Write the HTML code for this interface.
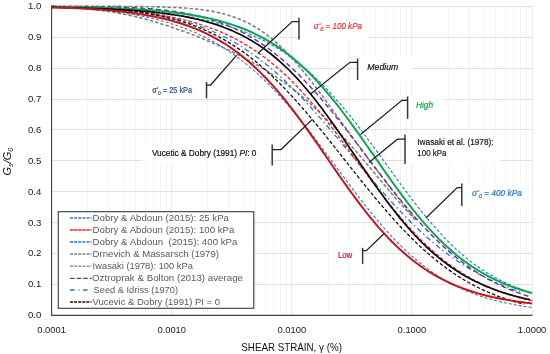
<!DOCTYPE html>
<html><head><meta charset="utf-8"><title>G/G0 vs shear strain</title>
<style>html,body{margin:0;padding:0;background:#fff}svg{display:block}text{font-family:"Liberation Sans",sans-serif}</style></head><body>
<svg width="550" height="354" viewBox="0 0 550 354">
<rect width="550" height="354" fill="#fff"/>
<path d="M87.8 6.3 V315.4 M108.9 6.3 V315.4 M123.9 6.3 V315.4 M135.5 6.3 V315.4 M145.1 6.3 V315.4 M153.1 6.3 V315.4 M160.1 6.3 V315.4 M166.2 6.3 V315.4 M207.9 6.3 V315.4 M229.0 6.3 V315.4 M244.0 6.3 V315.4 M255.6 6.3 V315.4 M265.2 6.3 V315.4 M273.2 6.3 V315.4 M280.2 6.3 V315.4 M286.3 6.3 V315.4 M328.0 6.3 V315.4 M349.1 6.3 V315.4 M364.1 6.3 V315.4 M375.7 6.3 V315.4 M385.3 6.3 V315.4 M393.3 6.3 V315.4 M400.3 6.3 V315.4 M406.4 6.3 V315.4 M448.1 6.3 V315.4 M469.2 6.3 V315.4 M484.2 6.3 V315.4 M495.8 6.3 V315.4 M505.4 6.3 V315.4 M513.4 6.3 V315.4 M520.4 6.3 V315.4 M526.5 6.3 V315.4" stroke="#f4f4f4" stroke-width="1" fill="none" shape-rendering="crispEdges"/>
<path d="M171.7 6.3 V315.4 M291.8 6.3 V315.4 M411.9 6.3 V315.4 M532.0 6.3 V315.4" stroke="#ebebeb" stroke-width="1" fill="none" shape-rendering="crispEdges"/>
<path d="M51.6 284.5 H532.0 M51.6 253.6 H532.0 M51.6 222.7 H532.0 M51.6 191.8 H532.0 M51.6 160.8 H532.0 M51.6 129.9 H532.0 M51.6 99.0 H532.0 M51.6 68.1 H532.0 M51.6 37.2 H532.0 M51.6 6.3 H532.0" stroke="#e1e1e1" stroke-width="1" fill="none" shape-rendering="crispEdges"/>
<path d="M52.0 6.3 L55.0 6.3 L58.0 6.3 L61.0 6.3 L64.0 6.3 L67.0 6.3 L70.0 6.3 L73.0 6.3 L76.0 6.3 L79.0 6.3 L82.0 6.3 L85.0 6.3 L88.0 6.3 L91.0 6.3 L94.0 6.3 L97.0 6.4 L100.0 6.4 L103.0 6.4 L106.0 6.4 L109.0 6.4 L112.0 6.4 L115.0 6.4 L118.0 6.4 L121.0 6.4 L124.0 6.5 L127.0 6.5 L130.0 6.5 L133.0 6.5 L136.0 6.5 L139.0 6.6 L142.0 6.6 L145.0 6.7 L148.0 6.7 L151.0 6.7 L154.0 6.8 L157.0 6.9 L160.0 6.9 L163.0 7.0 L166.0 7.1 L169.0 7.2 L172.0 7.4 L175.0 7.5 L178.0 7.6 L181.0 7.8 L184.0 8.0 L187.0 8.2 L190.0 8.5 L193.0 8.7 L196.0 9.0 L199.0 9.4 L202.0 9.7 L205.0 10.1 L208.0 10.6 L211.0 11.1 L214.0 11.6 L217.0 12.3 L220.0 12.9 L223.0 13.7 L226.0 14.5 L229.0 15.4 L232.0 16.3 L235.0 17.4 L238.0 18.5 L241.0 19.7 L244.0 21.1 L247.0 22.5 L250.0 24.0 L253.0 25.7 L256.0 27.5 L259.0 29.3 L262.0 31.4 L265.0 33.5 L268.0 35.8 L271.0 38.1 L274.0 40.6 L277.0 43.3 L280.0 46.1 L283.0 48.9 L286.0 51.9 L289.0 55.1 L292.0 58.3 L295.0 61.6 L298.0 65.1 L301.0 68.6 L304.0 72.3 L307.0 76.0 L310.0 79.8 L313.0 83.6 L316.0 87.5 L319.0 91.5 L322.0 95.5 L325.0 99.6 L328.0 103.7 L331.0 107.8 L334.0 111.9 L337.0 116.1 L340.0 120.2 L343.0 124.4 L346.0 128.5 L349.0 132.6 L352.0 136.8 L355.0 140.9 L358.0 145.0 L361.0 149.1 L364.0 153.1 L367.0 157.1 L370.0 161.1 L373.0 165.1 L376.0 169.1 L379.0 173.0 L382.0 176.9 L385.0 180.8 L388.0 184.7 L391.0 188.5 L394.0 192.3 L397.0 196.1 L400.0 199.9 L403.0 203.7 L406.0 207.4 L409.0 211.2 L412.0 214.9 L415.0 218.6 L416.0 219.8" stroke="#808080" stroke-width="1.6" fill="none" stroke-dasharray="3.5 2" stroke-linejoin="round"/>
<path d="M52.0 6.8 L55.0 6.9 L58.0 7.0 L61.0 7.1 L64.0 7.2 L67.0 7.3 L70.0 7.5 L73.0 7.7 L76.0 7.9 L79.0 8.1 L82.0 8.3 L85.0 8.6 L88.0 8.8 L91.0 9.1 L94.0 9.5 L97.0 9.8 L100.0 10.2 L103.0 10.6 L106.0 11.0 L109.0 11.5 L112.0 11.9 L115.0 12.5 L118.0 13.0 L121.0 13.6 L124.0 14.2 L127.0 14.8 L130.0 15.4 L133.0 16.1 L136.0 16.8 L139.0 17.6 L142.0 18.3 L145.0 19.1 L148.0 19.9 L151.0 20.8 L154.0 21.6 L157.0 22.5 L160.0 23.4 L163.0 24.4 L166.0 25.3 L169.0 26.3 L172.0 27.3 L175.0 28.3 L178.0 29.4 L181.0 30.4 L184.0 31.5 L187.0 32.6 L190.0 33.7 L193.0 34.9 L196.0 36.0 L199.0 37.2 L202.0 38.4 L205.0 39.7 L208.0 40.9 L211.0 42.2 L214.0 43.5 L217.0 44.8 L220.0 46.1 L223.0 47.5 L226.0 48.8 L229.0 50.3 L232.0 51.7 L235.0 53.2 L238.0 54.7 L241.0 56.2 L244.0 57.8 L247.0 59.4 L250.0 61.0 L253.0 62.7 L256.0 64.4 L259.0 66.1 L262.0 67.9 L265.0 69.8 L268.0 71.6 L271.0 73.6 L274.0 75.5 L277.0 77.6 L280.0 79.6 L283.0 81.8 L286.0 83.9 L289.0 86.2 L292.0 88.5 L295.0 90.8 L298.0 93.2 L301.0 95.7 L304.0 98.2 L307.0 100.8 L310.0 103.5 L313.0 106.2 L316.0 108.9 L319.0 111.8 L322.0 114.7 L325.0 117.6 L328.0 120.6 L331.0 123.7 L334.0 126.8 L337.0 130.0 L340.0 133.2 L343.0 136.5 L346.0 139.9 L349.0 143.2 L352.0 146.7 L355.0 150.1 L358.0 153.6 L361.0 157.1 L364.0 160.6 L367.0 164.2 L370.0 167.8 L373.0 171.4 L376.0 174.9 L379.0 178.5 L382.0 182.1 L385.0 185.7 L388.0 189.2 L391.0 192.7 L394.0 196.2 L397.0 199.7 L400.0 203.1 L403.0 206.5 L406.0 209.8 L409.0 213.1 L412.0 216.3 L415.0 219.4 L416.0 220.5" stroke="#808080" stroke-width="1.6" fill="none" stroke-dasharray="3.5 2" stroke-linejoin="round"/>
<path d="M52.0 7.3 L55.0 7.4 L58.0 7.5 L61.0 7.6 L64.0 7.8 L67.0 7.9 L70.0 8.0 L73.0 8.2 L76.0 8.3 L79.0 8.5 L82.0 8.7 L85.0 8.9 L88.0 9.1 L91.0 9.3 L94.0 9.6 L97.0 9.8 L100.0 10.1 L103.0 10.4 L106.0 10.7 L109.0 11.1 L112.0 11.4 L115.0 11.8 L118.0 12.2 L121.0 12.6 L124.0 13.0 L127.0 13.5 L130.0 13.9 L133.0 14.4 L136.0 15.0 L139.0 15.5 L142.0 16.1 L145.0 16.8 L148.0 17.4 L151.0 18.1 L154.0 18.8 L157.0 19.6 L160.0 20.3 L163.0 21.2 L166.0 22.0 L169.0 22.9 L172.0 23.9 L175.0 24.9 L178.0 25.9 L181.0 27.0 L184.0 28.1 L187.0 29.2 L190.0 30.5 L193.0 31.7 L196.0 33.0 L199.0 34.4 L202.0 35.8 L205.0 37.3 L208.0 38.9 L211.0 40.5 L214.0 42.1 L217.0 43.8 L220.0 45.6 L223.0 47.5 L226.0 49.4 L229.0 51.4 L232.0 53.4 L235.0 55.5 L238.0 57.7 L241.0 60.0 L244.0 62.3 L247.0 64.8 L250.0 67.2 L253.0 69.8 L256.0 72.4 L259.0 75.1 L262.0 77.9 L265.0 80.8 L268.0 83.7 L271.0 86.7 L274.0 89.8 L277.0 93.0 L280.0 96.2 L283.0 99.5 L286.0 102.9 L289.0 106.3 L292.0 109.8 L295.0 113.4 L298.0 117.0 L301.0 120.7 L304.0 124.5 L307.0 128.2 L310.0 132.1 L313.0 136.0 L316.0 139.9 L319.0 143.8 L322.0 147.8 L325.0 151.8 L328.0 155.8 L331.0 159.9 L334.0 163.9 L337.0 168.0 L340.0 172.0 L343.0 176.1 L346.0 180.1 L349.0 184.1 L352.0 188.1 L355.0 192.1 L358.0 196.0 L361.0 199.9 L364.0 203.7 L367.0 207.5 L370.0 211.3 L373.0 214.9 L376.0 218.6 L379.0 222.1 L382.0 225.6 L385.0 229.0 L388.0 232.4 L391.0 235.7 L394.0 238.9 L397.0 242.0 L400.0 245.0 L403.0 247.9 L406.0 250.8 L409.0 253.6 L412.0 256.3 L415.0 258.9 L418.0 261.4 L421.0 263.8 L424.0 266.1 L427.0 268.4 L430.0 270.6 L433.0 272.7 L436.0 274.7 L439.0 276.6 L442.0 278.4 L445.0 280.2 L448.0 281.9 L451.0 283.6 L454.0 285.1 L457.0 286.6 L460.0 288.0 L463.0 289.4 L466.0 290.7 L469.0 291.9 L472.0 293.1 L475.0 294.2 L478.0 295.3 L481.0 296.3 L484.0 297.3 L487.0 298.2 L490.0 299.0 L493.0 299.9 L496.0 300.7 L499.0 301.4 L502.0 302.1 L505.0 302.8 L508.0 303.4 L511.0 304.0 L514.0 304.6 L517.0 305.1 L520.0 305.6 L523.0 306.1 L526.0 306.6 L529.0 307.0 L532.0 307.4" stroke="#4472c4" stroke-width="1.1" fill="none" stroke-dasharray="3 2" stroke-linejoin="round"/>
<path d="M52.0 6.8 L55.0 6.9 L58.0 6.9 L61.0 7.0 L64.0 7.0 L67.0 7.1 L70.0 7.1 L73.0 7.2 L76.0 7.3 L79.0 7.4 L82.0 7.5 L85.0 7.5 L88.0 7.6 L91.0 7.7 L94.0 7.8 L97.0 8.0 L100.0 8.1 L103.0 8.2 L106.0 8.3 L109.0 8.5 L112.0 8.6 L115.0 8.8 L118.0 9.0 L121.0 9.2 L124.0 9.3 L127.0 9.5 L130.0 9.7 L133.0 10.0 L136.0 10.2 L139.0 10.4 L142.0 10.7 L145.0 11.0 L148.0 11.2 L151.0 11.5 L154.0 11.8 L157.0 12.2 L160.0 12.5 L163.0 12.8 L166.0 13.2 L169.0 13.6 L172.0 14.0 L175.0 14.4 L178.0 14.9 L181.0 15.3 L184.0 15.8 L187.0 16.3 L190.0 16.9 L193.0 17.4 L196.0 18.0 L199.0 18.6 L202.0 19.3 L205.0 19.9 L208.0 20.6 L211.0 21.3 L214.0 22.1 L217.0 22.9 L220.0 23.7 L223.0 24.6 L226.0 25.5 L229.0 26.4 L232.0 27.4 L235.0 28.4 L238.0 29.5 L241.0 30.6 L244.0 31.7 L247.0 32.9 L250.0 34.2 L253.0 35.5 L256.0 36.9 L259.0 38.3 L262.0 39.8 L265.0 41.3 L268.0 42.9 L271.0 44.5 L274.0 46.3 L277.0 48.1 L280.0 49.9 L283.0 51.9 L286.0 53.9 L289.0 56.0 L292.0 58.1 L295.0 60.3 L298.0 62.7 L301.0 65.1 L304.0 67.5 L307.0 70.1 L310.0 72.7 L313.0 75.5 L316.0 78.3 L319.0 81.2 L322.0 84.1 L325.0 87.2 L328.0 90.3 L331.0 93.6 L334.0 96.9 L337.0 100.3 L340.0 103.7 L343.0 107.3 L346.0 110.9 L349.0 114.6 L352.0 118.3 L355.0 122.1 L358.0 126.0 L361.0 129.9 L364.0 133.9 L367.0 137.9 L370.0 141.9 L373.0 146.0 L376.0 150.1 L379.0 154.3 L382.0 158.4 L385.0 162.6 L388.0 166.7 L391.0 170.9 L394.0 175.0 L397.0 179.2 L400.0 183.3 L403.0 187.3 L406.0 191.4 L409.0 195.4 L412.0 199.3 L415.0 203.2 L418.0 207.1 L421.0 210.8 L424.0 214.5 L427.0 218.2 L430.0 221.7 L433.0 225.2 L436.0 228.6 L439.0 231.9 L442.0 235.1 L445.0 238.3 L448.0 241.3 L451.0 244.3 L454.0 247.2 L457.0 249.9 L460.0 252.6 L463.0 255.2 L466.0 257.7 L469.0 260.1 L472.0 262.4 L475.0 264.7 L478.0 266.8 L481.0 268.9 L484.0 270.9 L487.0 272.8 L490.0 274.6 L493.0 276.3 L496.0 278.0 L499.0 279.6 L502.0 281.1 L505.0 282.5 L508.0 283.9 L511.0 285.2 L514.0 286.5 L517.0 287.7 L520.0 288.8 L523.0 289.9 L526.0 291.0 L529.0 291.9 L530.0 292.3" stroke="#1f78d1" stroke-width="1.1" fill="none" stroke-dasharray="3 2" stroke-linejoin="round"/>
<path d="M52.0 7.0 L55.0 7.1 L58.0 7.1 L61.0 7.2 L64.0 7.3 L67.0 7.3 L70.0 7.4 L73.0 7.5 L76.0 7.6 L79.0 7.7 L82.0 7.8 L85.0 8.0 L88.0 8.1 L91.0 8.2 L94.0 8.4 L97.0 8.6 L100.0 8.7 L103.0 8.9 L106.0 9.1 L109.0 9.3 L112.0 9.5 L115.0 9.8 L118.0 10.0 L121.0 10.3 L124.0 10.6 L127.0 10.9 L130.0 11.2 L133.0 11.5 L136.0 11.9 L139.0 12.3 L142.0 12.7 L145.0 13.1 L148.0 13.5 L151.0 14.0 L154.0 14.5 L157.0 15.0 L160.0 15.6 L163.0 16.2 L166.0 16.8 L169.0 17.4 L172.0 18.1 L175.0 18.8 L178.0 19.6 L181.0 20.4 L184.0 21.2 L187.0 22.1 L190.0 23.0 L193.0 23.9 L196.0 24.9 L199.0 26.0 L202.0 27.1 L205.0 28.2 L208.0 29.4 L211.0 30.7 L214.0 32.0 L217.0 33.3 L220.0 34.8 L223.0 36.2 L226.0 37.7 L229.0 39.3 L232.0 41.0 L235.0 42.7 L238.0 44.5 L241.0 46.3 L244.0 48.2 L247.0 50.2 L250.0 52.2 L253.0 54.3 L256.0 56.5 L259.0 58.7 L262.0 61.0 L265.0 63.4 L268.0 65.8 L271.0 68.3 L274.0 70.9 L277.0 73.5 L280.0 76.2 L283.0 79.0 L286.0 81.8 L289.0 84.7 L292.0 87.7 L295.0 90.7 L298.0 93.8 L301.0 96.9 L304.0 100.1 L307.0 103.3 L310.0 106.6 L313.0 109.9 L316.0 113.2 L319.0 116.6 L322.0 120.1 L325.0 123.5 L328.0 127.0 L331.0 130.6 L334.0 134.1 L337.0 137.7 L340.0 141.3 L343.0 144.9 L346.0 148.5 L349.0 152.1 L352.0 155.7 L355.0 159.3 L358.0 163.0 L361.0 166.6 L364.0 170.1 L367.0 173.7 L370.0 177.3 L373.0 180.8 L376.0 184.3 L379.0 187.8 L382.0 191.2 L385.0 194.6 L388.0 198.0 L391.0 201.3 L394.0 204.6 L397.0 207.8 L400.0 211.0 L403.0 214.1 L406.0 217.2 L409.0 220.2 L412.0 223.2 L415.0 226.1 L418.0 229.0 L421.0 231.8 L424.0 234.5 L427.0 237.2 L430.0 239.9 L433.0 242.4 L436.0 244.9 L439.0 247.4 L442.0 249.8 L445.0 252.1 L448.0 254.3 L451.0 256.5 L454.0 258.7 L457.0 260.7 L460.0 262.8 L463.0 264.7 L466.0 266.6 L469.0 268.5 L472.0 270.3 L475.0 272.0 L478.0 273.7 L481.0 275.3 L484.0 276.9 L487.0 278.4 L490.0 279.8 L493.0 281.3 L496.0 282.6 L499.0 284.0 L502.0 285.2 L505.0 286.5 L508.0 287.7 L511.0 288.8 L514.0 289.9 L517.0 291.0 L520.0 292.0" stroke="#1f78d1" stroke-width="1.3" fill="none" stroke-dasharray="5 3 1.5 3" stroke-linejoin="round"/>
<path d="M52.0 6.3 L55.0 6.3 L58.0 6.4 L61.0 6.4 L64.0 6.4 L67.0 6.4 L70.0 6.4 L73.0 6.4 L76.0 6.4 L79.0 6.5 L82.0 6.5 L85.0 6.5 L88.0 6.5 L91.0 6.6 L94.0 6.6 L97.0 6.6 L100.0 6.7 L103.0 6.7 L106.0 6.8 L109.0 6.9 L112.0 6.9 L115.0 7.0 L118.0 7.1 L121.0 7.2 L124.0 7.3 L127.0 7.4 L130.0 7.5 L133.0 7.7 L136.0 7.8 L139.0 8.0 L142.0 8.2 L145.0 8.4 L148.0 8.6 L151.0 8.8 L154.0 9.1 L157.0 9.4 L160.0 9.7 L163.0 10.0 L166.0 10.3 L169.0 10.7 L172.0 11.1 L175.0 11.5 L178.0 12.0 L181.0 12.5 L184.0 13.0 L187.0 13.6 L190.0 14.1 L193.0 14.8 L196.0 15.5 L199.0 16.2 L202.0 16.9 L205.0 17.7 L208.0 18.6 L211.0 19.5 L214.0 20.5 L217.0 21.5 L220.0 22.5 L223.0 23.6 L226.0 24.8 L229.0 26.1 L232.0 27.4 L235.0 28.7 L238.0 30.1 L241.0 31.6 L244.0 33.2 L247.0 34.8 L250.0 36.5 L253.0 38.3 L256.0 40.1 L259.0 42.1 L262.0 44.1 L265.0 46.1 L268.0 48.3 L271.0 50.5 L274.0 52.8 L277.0 55.2 L280.0 57.6 L283.0 60.2 L286.0 62.8 L289.0 65.5 L292.0 68.2 L295.0 71.1 L298.0 74.0 L301.0 77.0 L304.0 80.1 L307.0 83.2 L310.0 86.4 L313.0 89.7 L316.0 93.0 L319.0 96.4 L322.0 99.9 L325.0 103.4 L328.0 107.0 L331.0 110.6 L334.0 114.3 L337.0 118.0 L340.0 121.8 L343.0 125.6 L346.0 129.4 L349.0 133.3 L352.0 137.2 L355.0 141.1 L358.0 145.1 L361.0 149.0 L364.0 153.0 L367.0 156.9 L370.0 160.9 L373.0 164.8 L376.0 168.8 L379.0 172.7 L382.0 176.6 L385.0 180.5 L388.0 184.3 L391.0 188.2 L394.0 192.0 L397.0 195.7 L400.0 199.4 L403.0 203.1 L406.0 206.7 L409.0 210.2 L412.0 213.7 L415.0 217.2 L418.0 220.6 L421.0 223.9 L424.0 227.1 L427.0 230.3 L430.0 233.4 L433.0 236.5 L436.0 239.4 L439.0 242.3 L442.0 245.1 L445.0 247.9 L448.0 250.5 L451.0 253.1 L454.0 255.7 L457.0 258.1 L460.0 260.5 L463.0 262.8 L466.0 265.0 L469.0 267.1 L472.0 269.2 L475.0 271.2 L478.0 273.1 L481.0 275.0 L484.0 276.7 L487.0 278.5 L490.0 280.1 L493.0 281.7 L496.0 283.2 L499.0 284.7 L502.0 286.1 L505.0 287.5 L508.0 288.8 L511.0 290.0 L514.0 291.2 L517.0 292.3 L520.0 293.4 L523.0 294.5 L526.0 295.5 L529.0 296.4 L530.0 296.7" stroke="#7030a0" stroke-width="1.4" fill="none" stroke-dasharray="5 3" stroke-linejoin="round"/>
<path d="M52.0 7.0 L55.0 7.1 L58.0 7.2 L61.0 7.2 L64.0 7.3 L67.0 7.4 L70.0 7.5 L73.0 7.6 L76.0 7.7 L79.0 7.8 L82.0 7.9 L85.0 8.0 L88.0 8.2 L91.0 8.3 L94.0 8.4 L97.0 8.6 L100.0 8.8 L103.0 8.9 L106.0 9.1 L109.0 9.3 L112.0 9.5 L115.0 9.7 L118.0 10.0 L121.0 10.2 L124.0 10.5 L127.0 10.7 L130.0 11.0 L133.0 11.3 L136.0 11.7 L139.0 12.0 L142.0 12.4 L145.0 12.7 L148.0 13.1 L151.0 13.6 L154.0 14.0 L157.0 14.5 L160.0 14.9 L163.0 15.5 L166.0 16.0 L169.0 16.6 L172.0 17.2 L175.0 17.8 L178.0 18.4 L181.0 19.1 L184.0 19.9 L187.0 20.6 L190.0 21.4 L193.0 22.2 L196.0 23.1 L199.0 24.0 L202.0 25.0 L205.0 26.0 L208.0 27.0 L211.0 28.1 L214.0 29.2 L217.0 30.4 L220.0 31.7 L223.0 33.0 L226.0 34.3 L229.0 35.7 L232.0 37.2 L235.0 38.7 L238.0 40.3 L241.0 42.0 L244.0 43.7 L247.0 45.5 L250.0 47.4 L253.0 49.3 L256.0 51.3 L259.0 53.4 L262.0 55.5 L265.0 57.8 L268.0 60.1 L271.0 62.5 L274.0 65.0 L277.0 67.5 L280.0 70.1 L283.0 72.8 L286.0 75.6 L289.0 78.5 L292.0 81.5 L295.0 84.5 L298.0 87.6 L301.0 90.8 L304.0 94.1 L307.0 97.4 L310.0 100.8 L313.0 104.3 L316.0 107.8 L319.0 111.5 L322.0 115.1 L325.0 118.9 L328.0 122.7 L331.0 126.5 L334.0 130.4 L337.0 134.3 L340.0 138.3 L343.0 142.3 L346.0 146.3 L349.0 150.3 L352.0 154.4 L355.0 158.5 L358.0 162.5 L361.0 166.6 L364.0 170.7 L367.0 174.7 L370.0 178.8 L373.0 182.8 L376.0 186.7 L379.0 190.7 L382.0 194.6 L385.0 198.5 L388.0 202.3 L391.0 206.0 L394.0 209.7 L397.0 213.4 L400.0 216.9 L403.0 220.5 L406.0 223.9 L409.0 227.2 L412.0 230.5 L415.0 233.7 L418.0 236.9 L421.0 239.9 L424.0 242.9 L427.0 245.7 L430.0 248.5 L433.0 251.2 L436.0 253.9 L439.0 256.4 L442.0 258.8 L445.0 261.2 L448.0 263.5 L451.0 265.7 L454.0 267.8 L457.0 269.9 L460.0 271.8 L463.0 273.7 L466.0 275.6 L469.0 277.3 L472.0 279.0 L475.0 280.6 L478.0 282.1 L481.0 283.6 L484.0 285.0 L487.0 286.4 L490.0 287.7 L493.0 288.9 L496.0 290.1 L499.0 291.2 L502.0 292.3 L505.0 293.3 L508.0 294.3 L511.0 295.2 L514.0 296.1 L517.0 297.0 L520.0 297.8 L523.0 298.6 L526.0 299.3 L529.0 300.0 L532.0 300.7" stroke="#ff1a1a" stroke-width="1.3" fill="none" stroke-dasharray="3.5 2" stroke-linejoin="round"/>
<path d="M52.0 6.9 L55.0 7.0 L58.0 7.0 L61.0 7.1 L64.0 7.2 L67.0 7.2 L70.0 7.3 L73.0 7.4 L76.0 7.5 L79.0 7.6 L82.0 7.7 L85.0 7.8 L88.0 8.0 L91.0 8.1 L94.0 8.3 L97.0 8.4 L100.0 8.6 L103.0 8.8 L106.0 9.0 L109.0 9.2 L112.0 9.4 L115.0 9.7 L118.0 9.9 L121.0 10.2 L124.0 10.5 L127.0 10.8 L130.0 11.2 L133.0 11.5 L136.0 11.9 L139.0 12.3 L142.0 12.7 L145.0 13.2 L148.0 13.7 L151.0 14.2 L154.0 14.8 L157.0 15.3 L160.0 15.9 L163.0 16.6 L166.0 17.3 L169.0 18.0 L172.0 18.7 L175.0 19.5 L178.0 20.4 L181.0 21.3 L184.0 22.2 L187.0 23.2 L190.0 24.2 L193.0 25.3 L196.0 26.4 L199.0 27.6 L202.0 28.8 L205.0 30.1 L208.0 31.4 L211.0 32.8 L214.0 34.3 L217.0 35.8 L220.0 37.4 L223.0 39.1 L226.0 40.8 L229.0 42.6 L232.0 44.5 L235.0 46.4 L238.0 48.4 L241.0 50.4 L244.0 52.6 L247.0 54.8 L250.0 57.1 L253.0 59.4 L256.0 61.8 L259.0 64.3 L262.0 66.9 L265.0 69.5 L268.0 72.2 L271.0 75.0 L274.0 77.8 L277.0 80.8 L280.0 83.7 L283.0 86.8 L286.0 89.9 L289.0 93.1 L292.0 96.3 L295.0 99.6 L298.0 102.9 L301.0 106.3 L304.0 109.8 L307.0 113.2 L310.0 116.8 L313.0 120.4 L316.0 124.0 L319.0 127.6 L322.0 131.3 L325.0 135.0 L328.0 138.8 L331.0 142.5 L334.0 146.3 L337.0 150.1 L340.0 153.9 L343.0 157.7 L346.0 161.5 L349.0 165.3 L352.0 169.1 L355.0 172.9 L358.0 176.6 L361.0 180.4 L364.0 184.1 L367.0 187.9 L370.0 191.5 L373.0 195.2 L376.0 198.8 L379.0 202.4 L382.0 205.9 L385.0 209.4 L388.0 212.9 L391.0 216.3 L394.0 219.6 L397.0 222.9 L400.0 226.2 L403.0 229.4 L406.0 232.5 L409.0 235.5 L412.0 238.5 L415.0 241.5 L418.0 244.4 L421.0 247.2 L424.0 249.9 L427.0 252.6 L430.0 255.2 L433.0 257.7 L436.0 260.2 L439.0 262.6 L442.0 264.9 L445.0 267.1 L448.0 269.3 L451.0 271.4 L454.0 273.5 L457.0 275.5 L460.0 277.4 L463.0 279.2 L466.0 281.0 L469.0 282.7 L472.0 284.4 L475.0 286.0 L478.0 287.5 L481.0 289.0 L484.0 290.4 L487.0 291.7 L490.0 293.0 L493.0 294.2 L496.0 295.4 L499.0 296.6 L502.0 297.6 L505.0 298.7 L508.0 299.7 L511.0 300.6 L514.0 301.5 L517.0 302.3 L520.0 303.2 L523.0 303.9 L524.0 304.2" stroke="#111111" stroke-width="1.3" fill="none" stroke-dasharray="3.5 2" stroke-linejoin="round"/>
<path d="M52.0 6.8 L55.0 6.8 L58.0 6.9 L61.0 6.9 L64.0 7.0 L67.0 7.0 L70.0 7.0 L73.0 7.1 L76.0 7.2 L79.0 7.2 L82.0 7.3 L85.0 7.3 L88.0 7.4 L91.0 7.5 L94.0 7.6 L97.0 7.6 L100.0 7.7 L103.0 7.8 L106.0 7.9 L109.0 8.0 L112.0 8.1 L115.0 8.2 L118.0 8.4 L121.0 8.5 L124.0 8.6 L127.0 8.8 L130.0 8.9 L133.0 9.1 L136.0 9.3 L139.0 9.5 L142.0 9.6 L145.0 9.9 L148.0 10.1 L151.0 10.3 L154.0 10.5 L157.0 10.8 L160.0 11.1 L163.0 11.3 L166.0 11.6 L169.0 12.0 L172.0 12.3 L175.0 12.7 L178.0 13.0 L181.0 13.4 L184.0 13.8 L187.0 14.3 L190.0 14.7 L193.0 15.2 L196.0 15.8 L199.0 16.3 L202.0 16.9 L205.0 17.5 L208.0 18.1 L211.0 18.8 L214.0 19.5 L217.0 20.2 L220.0 21.0 L223.0 21.9 L226.0 22.7 L229.0 23.7 L232.0 24.6 L235.0 25.6 L238.0 26.7 L241.0 27.8 L244.0 29.0 L247.0 30.2 L250.0 31.5 L253.0 32.9 L256.0 34.3 L259.0 35.8 L262.0 37.4 L265.0 39.0 L268.0 40.7 L271.0 42.5 L274.0 44.4 L277.0 46.4 L280.0 48.4 L283.0 50.5 L286.0 52.7 L289.0 55.0 L292.0 57.4 L295.0 59.9 L298.0 62.5 L301.0 65.2 L304.0 68.0 L307.0 70.8 L310.0 73.8 L313.0 76.9 L316.0 80.0 L319.0 83.3 L322.0 86.6 L325.0 90.1 L328.0 93.6 L331.0 97.2 L334.0 100.9 L337.0 104.7 L340.0 108.5 L343.0 112.5 L346.0 116.5 L349.0 120.5 L352.0 124.6 L355.0 128.8 L358.0 133.0 L361.0 137.2 L364.0 141.5 L367.0 145.8 L370.0 150.1 L373.0 154.4 L376.0 158.8 L379.0 163.1 L382.0 167.4 L385.0 171.7 L388.0 175.9 L391.0 180.2 L394.0 184.4 L397.0 188.5 L400.0 192.6 L403.0 196.6 L406.0 200.6 L409.0 204.5 L412.0 208.4 L415.0 212.1 L418.0 215.8 L421.0 219.4 L424.0 222.9 L427.0 226.3 L430.0 229.6 L433.0 232.9 L436.0 236.0 L439.0 239.1 L442.0 242.0 L445.0 244.9 L448.0 247.6 L451.0 250.3 L454.0 252.9 L457.0 255.4 L460.0 257.8 L463.0 260.1 L466.0 262.3 L469.0 264.4 L472.0 266.5 L475.0 268.4 L478.0 270.3 L481.0 272.1 L484.0 273.8 L487.0 275.5 L490.0 277.1 L493.0 278.6 L496.0 280.1 L499.0 281.4 L502.0 282.8 L505.0 284.0 L508.0 285.2 L511.0 286.4 L514.0 287.5 L517.0 288.5 L520.0 289.5 L523.0 290.5 L526.0 291.4 L529.0 292.2 L532.0 293.0" stroke="#0aa84f" stroke-width="2.0" fill="none" stroke-linejoin="round"/>
<path d="M52.0 7.4 L55.0 7.5 L58.0 7.5 L61.0 7.6 L64.0 7.7 L67.0 7.7 L70.0 7.8 L73.0 7.9 L76.0 7.9 L79.0 8.0 L82.0 8.1 L85.0 8.2 L88.0 8.3 L91.0 8.4 L94.0 8.5 L97.0 8.6 L100.0 8.7 L103.0 8.8 L106.0 8.9 L109.0 9.1 L112.0 9.2 L115.0 9.4 L118.0 9.5 L121.0 9.7 L124.0 9.9 L127.0 10.1 L130.0 10.2 L133.0 10.5 L136.0 10.7 L139.0 10.9 L142.0 11.2 L145.0 11.4 L148.0 11.7 L151.0 12.0 L154.0 12.3 L157.0 12.6 L160.0 13.0 L163.0 13.3 L166.0 13.7 L169.0 14.1 L172.0 14.6 L175.0 15.0 L178.0 15.5 L181.0 16.0 L184.0 16.5 L187.0 17.1 L190.0 17.7 L193.0 18.4 L196.0 19.0 L199.0 19.7 L202.0 20.5 L205.0 21.3 L208.0 22.1 L211.0 23.0 L214.0 23.9 L217.0 24.9 L220.0 25.9 L223.0 27.0 L226.0 28.2 L229.0 29.4 L232.0 30.6 L235.0 32.0 L238.0 33.4 L241.0 34.8 L244.0 36.4 L247.0 38.0 L250.0 39.7 L253.0 41.5 L256.0 43.4 L259.0 45.3 L262.0 47.4 L265.0 49.5 L268.0 51.7 L271.0 54.0 L274.0 56.5 L277.0 59.0 L280.0 61.6 L283.0 64.3 L286.0 67.1 L289.0 70.0 L292.0 73.1 L295.0 76.2 L298.0 79.4 L301.0 82.7 L304.0 86.2 L307.0 89.7 L310.0 93.3 L313.0 97.0 L316.0 100.8 L319.0 104.7 L322.0 108.6 L325.0 112.7 L328.0 116.8 L331.0 120.9 L334.0 125.1 L337.0 129.4 L340.0 133.7 L343.0 138.1 L346.0 142.5 L349.0 146.9 L352.0 151.3 L355.0 155.7 L358.0 160.1 L361.0 164.6 L364.0 169.0 L367.0 173.3 L370.0 177.7 L373.0 182.0 L376.0 186.3 L379.0 190.5 L382.0 194.6 L385.0 198.7 L388.0 202.8 L391.0 206.7 L394.0 210.6 L397.0 214.4 L400.0 218.1 L403.0 221.7 L406.0 225.3 L409.0 228.7 L412.0 232.1 L415.0 235.3 L418.0 238.5 L421.0 241.6 L424.0 244.5 L427.0 247.4 L430.0 250.2 L433.0 252.8 L436.0 255.4 L439.0 257.9 L442.0 260.3 L445.0 262.6 L448.0 264.8 L451.0 267.0 L454.0 269.0 L457.0 271.0 L460.0 272.9 L463.0 274.7 L466.0 276.4 L469.0 278.1 L472.0 279.7 L475.0 281.2 L478.0 282.6 L481.0 284.0 L484.0 285.4 L487.0 286.6 L490.0 287.8 L493.0 289.0 L496.0 290.1 L499.0 291.2 L502.0 292.2 L505.0 293.1 L508.0 294.1 L511.0 294.9 L514.0 295.8 L517.0 296.6 L520.0 297.3 L523.0 298.1 L526.0 298.8 L529.0 299.4 L530.0 299.6" stroke="#0a0a0a" stroke-width="1.7" fill="none" stroke-linejoin="round"/>
<path d="M52.0 7.3 L55.0 7.4 L58.0 7.5 L61.0 7.6 L64.0 7.7 L67.0 7.8 L70.0 7.9 L73.0 8.0 L76.0 8.2 L79.0 8.3 L82.0 8.5 L85.0 8.6 L88.0 8.8 L91.0 9.0 L94.0 9.2 L97.0 9.4 L100.0 9.6 L103.0 9.8 L106.0 10.1 L109.0 10.3 L112.0 10.6 L115.0 10.9 L118.0 11.2 L121.0 11.5 L124.0 11.8 L127.0 12.2 L130.0 12.6 L133.0 13.0 L136.0 13.4 L139.0 13.9 L142.0 14.3 L145.0 14.9 L148.0 15.4 L151.0 15.9 L154.0 16.5 L157.0 17.2 L160.0 17.8 L163.0 18.5 L166.0 19.2 L169.0 20.0 L172.0 20.8 L175.0 21.7 L178.0 22.5 L181.0 23.5 L184.0 24.5 L187.0 25.5 L190.0 26.6 L193.0 27.7 L196.0 28.9 L199.0 30.2 L202.0 31.5 L205.0 32.9 L208.0 34.4 L211.0 35.9 L214.0 37.5 L217.0 39.1 L220.0 40.8 L223.0 42.7 L226.0 44.5 L229.0 46.5 L232.0 48.6 L235.0 50.7 L238.0 52.9 L241.0 55.3 L244.0 57.7 L247.0 60.2 L250.0 62.8 L253.0 65.4 L256.0 68.2 L259.0 71.1 L262.0 74.1 L265.0 77.2 L268.0 80.3 L271.0 83.6 L274.0 86.9 L277.0 90.4 L280.0 93.9 L283.0 97.5 L286.0 101.2 L289.0 105.0 L292.0 108.9 L295.0 112.8 L298.0 116.8 L301.0 120.9 L304.0 125.0 L307.0 129.2 L310.0 133.4 L313.0 137.6 L316.0 141.9 L319.0 146.3 L322.0 150.6 L325.0 155.0 L328.0 159.3 L331.0 163.7 L334.0 168.0 L337.0 172.4 L340.0 176.7 L343.0 181.0 L346.0 185.2 L349.0 189.4 L352.0 193.5 L355.0 197.6 L358.0 201.7 L361.0 205.6 L364.0 209.5 L367.0 213.3 L370.0 217.1 L373.0 220.7 L376.0 224.3 L379.0 227.8 L382.0 231.1 L385.0 234.4 L388.0 237.6 L391.0 240.7 L394.0 243.7 L397.0 246.6 L400.0 249.4 L403.0 252.1 L406.0 254.8 L409.0 257.3 L412.0 259.7 L415.0 262.0 L418.0 264.3 L421.0 266.4 L424.0 268.5 L427.0 270.5 L430.0 272.4 L433.0 274.2 L436.0 275.9 L439.0 277.6 L442.0 279.2 L445.0 280.7 L448.0 282.1 L451.0 283.5 L454.0 284.8 L457.0 286.1 L460.0 287.3 L463.0 288.4 L466.0 289.5 L469.0 290.5 L472.0 291.5 L475.0 292.5 L478.0 293.4 L481.0 294.2 L484.0 295.0 L487.0 295.8 L490.0 296.5 L493.0 297.2 L496.0 297.8 L499.0 298.4 L502.0 299.0 L505.0 299.6 L508.0 300.1 L511.0 300.6 L514.0 301.0 L517.0 301.5 L520.0 301.9 L523.0 302.3 L526.0 302.7 L529.0 303.0 L532.0 303.4" stroke="#c4161c" stroke-width="2.0" fill="none" stroke-linejoin="round"/>
<path d="M51.6 5.3 V315.4 H532.5" stroke="#404040" stroke-width="1.1" fill="none"/>
<text x="41.3" y="318.2" font-size="9.7" text-anchor="end" fill="#1a1a1a" textLength="13.4" lengthAdjust="spacingAndGlyphs">0.0</text>
<text x="41.3" y="287.3" font-size="9.7" text-anchor="end" fill="#1a1a1a" textLength="13.4" lengthAdjust="spacingAndGlyphs">0.1</text>
<text x="41.3" y="256.4" font-size="9.7" text-anchor="end" fill="#1a1a1a" textLength="13.4" lengthAdjust="spacingAndGlyphs">0.2</text>
<text x="41.3" y="225.5" font-size="9.7" text-anchor="end" fill="#1a1a1a" textLength="13.4" lengthAdjust="spacingAndGlyphs">0.3</text>
<text x="41.3" y="194.6" font-size="9.7" text-anchor="end" fill="#1a1a1a" textLength="13.4" lengthAdjust="spacingAndGlyphs">0.4</text>
<text x="41.3" y="163.7" font-size="9.7" text-anchor="end" fill="#1a1a1a" textLength="13.4" lengthAdjust="spacingAndGlyphs">0.5</text>
<text x="41.3" y="132.7" font-size="9.7" text-anchor="end" fill="#1a1a1a" textLength="13.4" lengthAdjust="spacingAndGlyphs">0.6</text>
<text x="41.3" y="101.8" font-size="9.7" text-anchor="end" fill="#1a1a1a" textLength="13.4" lengthAdjust="spacingAndGlyphs">0.7</text>
<text x="41.3" y="70.9" font-size="9.7" text-anchor="end" fill="#1a1a1a" textLength="13.4" lengthAdjust="spacingAndGlyphs">0.8</text>
<text x="41.3" y="40.0" font-size="9.7" text-anchor="end" fill="#1a1a1a" textLength="13.4" lengthAdjust="spacingAndGlyphs">0.9</text>
<text x="41.3" y="9.1" font-size="9.7" text-anchor="end" fill="#1a1a1a" textLength="13.4" lengthAdjust="spacingAndGlyphs">1.0</text>
<text x="51.6" y="332.9" font-size="9.7" text-anchor="middle" fill="#1a1a1a" textLength="28.6" lengthAdjust="spacingAndGlyphs">0.0001</text>
<text x="171.7" y="332.9" font-size="9.7" text-anchor="middle" fill="#1a1a1a" textLength="28.6" lengthAdjust="spacingAndGlyphs">0.0010</text>
<text x="291.8" y="332.9" font-size="9.7" text-anchor="middle" fill="#1a1a1a" textLength="28.6" lengthAdjust="spacingAndGlyphs">0.0100</text>
<text x="411.9" y="332.9" font-size="9.7" text-anchor="middle" fill="#1a1a1a" textLength="28.6" lengthAdjust="spacingAndGlyphs">0.1000</text>
<text x="532.0" y="332.9" font-size="9.7" text-anchor="middle" fill="#1a1a1a" textLength="28.6" lengthAdjust="spacingAndGlyphs">1.0000</text>
<text x="291.6" y="350.8" font-size="10.2" text-anchor="middle" fill="#111" textLength="100.6" lengthAdjust="spacingAndGlyphs">SHEAR STRAIN, γ (%)</text>
<text transform="translate(10.6 161.5) rotate(-90)" font-size="11" font-style="italic" text-anchor="middle" fill="#111">G<tspan font-size="7.5" dy="2.5">s</tspan><tspan dy="-2.5">/G</tspan><tspan font-size="7.5" dy="2.5">0</tspan></text>
<rect x="148" y="82" width="58" height="16.5" fill="#fff"/>
<path d="M206.5 82 V98.3" stroke="#3a3a3a" stroke-width="1.5" fill="none"/>
<path d="M206.5 85 L210.6 85 L236.6 55.4" stroke="#1f1f1f" stroke-width="1.25" fill="none"/>
<text x="152.2" y="93.2" font-size="8.9" stroke-width="0.2" fill="#2f4b8f" stroke="#2f4b8f" textLength="39.8" lengthAdjust="spacingAndGlyphs">σ'<tspan font-size="6" dy="2">0</tspan><tspan dy="-2"> = 25 kPa</tspan></text>
<rect x="142" y="143" width="130" height="19.5" fill="#fff"/>
<path d="M272.2 144.6 V165.4" stroke="#3a3a3a" stroke-width="1.5" fill="none"/>
<path d="M272.2 149.5 L281 149.5 L312.3 119.4" stroke="#1f1f1f" stroke-width="1.25" fill="none"/>
<text x="151.9" y="155.7" font-size="8.9" stroke-width="0.2" fill="#111" stroke="#111" textLength="104.5" lengthAdjust="spacingAndGlyphs">Vucetic &amp; Dobry (1991) <tspan font-style="italic">PI</tspan>: 0</text>
<rect x="300" y="15" width="68" height="25" fill="#fff"/>
<path d="M299 17.7 V39.4" stroke="#3a3a3a" stroke-width="1.5" fill="none"/>
<path d="M299 21.5 L292.2 21.5 L257.9 53.5" stroke="#1f1f1f" stroke-width="1.25" fill="none"/>
<text x="313.8" y="28.8" font-size="8.9" stroke-width="0.2" font-style="italic" fill="#f03030" stroke="#f03030" textLength="48.2" lengthAdjust="spacingAndGlyphs">σ'<tspan font-size="6" dy="2">0</tspan><tspan dy="-2"> = 100 kPa</tspan></text>
<rect x="358" y="57" width="54" height="24" fill="#fff"/>
<path d="M357.6 58.4 V80" stroke="#3a3a3a" stroke-width="1.5" fill="none"/>
<path d="M357.6 62.3 L350 62.3 L310.5 94" stroke="#1f1f1f" stroke-width="1.25" fill="none"/>
<text x="367.3" y="69.6" font-size="8.9" stroke-width="0.2" font-style="italic" fill="#111" stroke="#111" textLength="31" lengthAdjust="spacingAndGlyphs">Medium</text>
<rect x="408" y="96" width="37" height="24" fill="#fff"/>
<path d="M407.6 96.5 V118.8" stroke="#3a3a3a" stroke-width="1.5" fill="none"/>
<path d="M407.6 100.3 L402 100.3 L360.5 134.4" stroke="#1f1f1f" stroke-width="1.25" fill="none"/>
<text x="416" y="107.7" font-size="8.9" stroke-width="0.2" font-style="italic" fill="#0aa84f" stroke="#0aa84f" textLength="17" lengthAdjust="spacingAndGlyphs">High</text>
<rect x="406" y="133" width="94" height="32" fill="#fff"/>
<path d="M405 134.6 V163.9" stroke="#3a3a3a" stroke-width="1.5" fill="none"/>
<path d="M405 139.2 L397.4 139.2 L369 162.6" stroke="#1f1f1f" stroke-width="1.25" fill="none"/>
<text x="417.3" y="144.5" font-size="8.9" stroke-width="0.2" fill="#1a1a1a" stroke="#1a1a1a" textLength="76.3" lengthAdjust="spacingAndGlyphs">Iwasaki et al. (1978):</text>
<text x="417.3" y="156.2" font-size="8.9" stroke-width="0.2" fill="#1a1a1a" stroke="#1a1a1a" textLength="29.2" lengthAdjust="spacingAndGlyphs">100 kPa</text>
<rect x="463" y="183" width="68" height="24" fill="#fff"/>
<path d="M461.8 183.5 V206.1" stroke="#3a3a3a" stroke-width="1.5" fill="none"/>
<path d="M461.8 187.5 L457.3 187.5 L425.9 218" stroke="#1f1f1f" stroke-width="1.25" fill="none"/>
<text x="472" y="195.8" font-size="8.9" stroke-width="0.2" font-style="italic" fill="#1f78d1" stroke="#1f78d1" textLength="50" lengthAdjust="spacingAndGlyphs">σ'<tspan font-size="6" dy="2">0</tspan><tspan dy="-2"> = 400 kPa</tspan></text>
<rect x="329" y="246" width="33" height="19" fill="#fff"/>
<path d="M362.6 247.8 V263.9" stroke="#3a3a3a" stroke-width="1.5" fill="none"/>
<path d="M362.6 250.7 L366.3 250.7 L383.9 233.8" stroke="#1f1f1f" stroke-width="1.25" fill="none"/>
<text x="337.9" y="258" font-size="8.9" stroke-width="0.2" fill="#c4161c" stroke="#c4161c" textLength="14.4" lengthAdjust="spacingAndGlyphs">Low</text>
<rect x="58.3" y="211.7" width="195.5" height="96.6" fill="#fff" stroke="#3a3a3a" stroke-width="1.1"/>
<path d="M70 218 H91.6" stroke="#4472c4" stroke-width="1.3" stroke-dasharray="3 1.1"/>
<text x="92.6" y="221" font-size="9.3" fill="#595959" xml:space="preserve" textLength="136.4" lengthAdjust="spacingAndGlyphs">Dobry &amp; Abdoun (2015): 25 kPa</text>
<path d="M70 230 H91.6" stroke="#ff1a1a" stroke-width="1.3" stroke-dasharray="3 1.1"/>
<text x="92.6" y="233" font-size="9.3" fill="#595959" xml:space="preserve" textLength="141.8" lengthAdjust="spacingAndGlyphs">Dobry &amp; Abdoun (2015): 100 kPa</text>
<path d="M70 242 H91.6" stroke="#1f78d1" stroke-width="1.3" stroke-dasharray="3 1.1"/>
<text x="92.6" y="245" font-size="9.3" fill="#595959" xml:space="preserve" textLength="144.8" lengthAdjust="spacingAndGlyphs">Dobry &amp; Abdoun  (2015): 400 kPa</text>
<path d="M70 254 H91.6" stroke="#808080" stroke-width="1.3" stroke-dasharray="3 1.1"/>
<text x="92.6" y="257" font-size="9.3" fill="#595959" xml:space="preserve" textLength="126.4" lengthAdjust="spacingAndGlyphs">Drnevich &amp; Massarsch (1979)</text>
<path d="M70 266.2 H91.6" stroke="#808080" stroke-width="1.3" stroke-dasharray="3 1.1"/>
<text x="92.6" y="269" font-size="9.3" fill="#595959" xml:space="preserve" textLength="100.4" lengthAdjust="spacingAndGlyphs">Iwasaki (1978): 100 kPa</text>
<path d="M70 278.3 H91.6" stroke="#7030a0" stroke-width="1.3" stroke-dasharray="4.6 2"/>
<text x="92" y="281" font-size="9.3" fill="#595959" xml:space="preserve" textLength="151.0" lengthAdjust="spacingAndGlyphs">Oztroprak &amp; Bolton (2013) average</text>
<path d="M70 290 H91.6" stroke="#1f78d1" stroke-width="1.3" stroke-dasharray="4.6 4 1 3.4"/>
<text x="93.6" y="293" font-size="9.3" fill="#595959" xml:space="preserve" textLength="84.4" lengthAdjust="spacingAndGlyphs">Seed &amp; Idriss (1970)</text>
<path d="M70 302 H91.6" stroke="#111111" stroke-width="1.3" stroke-dasharray="3 1.1"/>
<text x="92.6" y="305.2" font-size="9.3" fill="#595959" xml:space="preserve" textLength="127.4" lengthAdjust="spacingAndGlyphs">Vucevic &amp; Dobry (1991) PI = 0</text>
</svg></body></html>
